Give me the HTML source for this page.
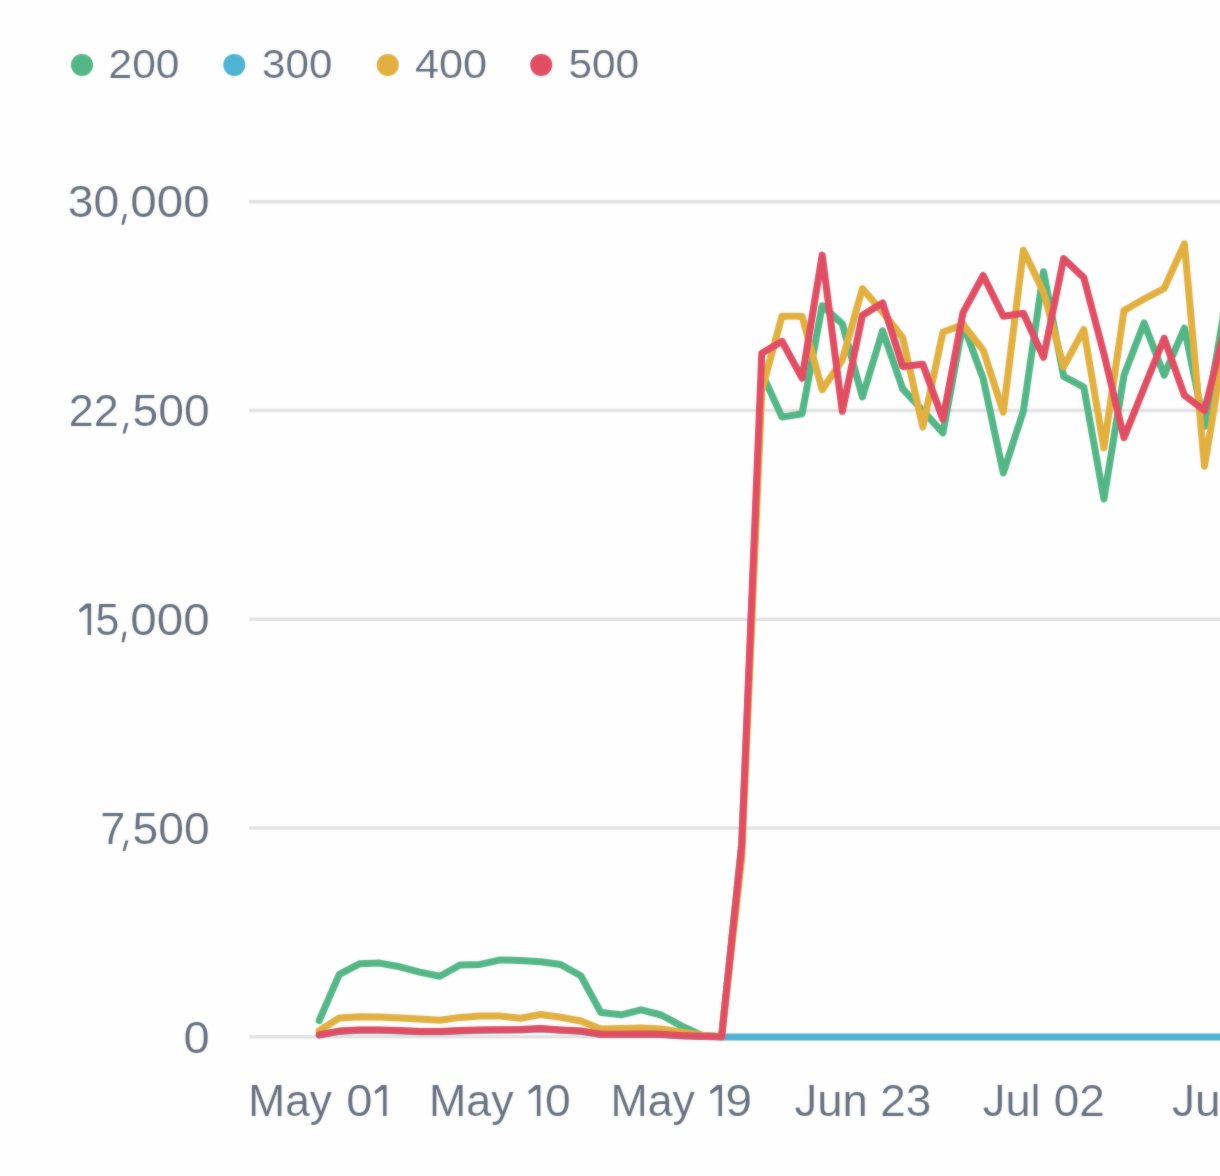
<!DOCTYPE html>
<html><head><meta charset="utf-8"><title>chart</title>
<style>
html,body{margin:0;padding:0;background:#fefefe;}
body{width:1220px;height:1176px;overflow:hidden;font-family:"Liberation Sans",sans-serif;}
svg{display:block;}
text{font-family:"Liberation Sans",sans-serif;fill:#68707e;stroke:#fefefe;stroke-width:0.15px;paint-order:fill stroke;}
.g1{fill:#68707e;}
.lg{font-size:40.5px;}
.ax{font-size:45.0px;}
.ay{font-size:45.0px;}
</style></head><body>
<svg width="1220" height="1176" viewBox="0 0 1220 1176">
<defs><filter id="soft" color-interpolation-filters="sRGB" x="-20" y="-20" width="1260" height="1216" filterUnits="userSpaceOnUse"><feGaussianBlur stdDeviation="0.8" result="b"/><feComposite in="SourceGraphic" in2="b" operator="arithmetic" k1="0" k2="0.6" k3="0.4" k4="0"/></filter></defs>
<rect width="1220" height="1176" fill="#fefefe"/>
<g filter="url(#soft)">
<circle cx="82" cy="64.9" r="11" fill="#54b686"/>
<text class="lg" x="108.58" y="78.0" textLength="70.86" lengthAdjust="spacingAndGlyphs">200</text>
<circle cx="234.3" cy="64.9" r="11" fill="#4fb3d3"/>
<text class="lg" x="262.02" y="78.0" textLength="70.3" lengthAdjust="spacingAndGlyphs">300</text>
<circle cx="387.8" cy="64.9" r="11" fill="#e1b040"/>
<text class="lg" x="415.03" y="78.0" textLength="72.14" lengthAdjust="spacingAndGlyphs">400</text>
<circle cx="541.2" cy="64.9" r="11" fill="#e04e63"/>
<text class="lg" x="568.4" y="78.0" textLength="70.73" lengthAdjust="spacingAndGlyphs">500</text>
<rect x="249" y="199.95" width="980" height="3.5" fill="#e2e2e3"/>
<rect x="249" y="408.75" width="980" height="3.5" fill="#e2e2e3"/>
<rect x="249" y="617.50" width="980" height="3.5" fill="#e2e2e3"/>
<rect x="249" y="826.25" width="980" height="3.5" fill="#e2e2e3"/>
<rect x="249" y="1035.05" width="980" height="3.5" fill="#e2e2e3"/>
<text class="ay" x="67.76" y="217.4" textLength="51.48" lengthAdjust="spacingAndGlyphs">30</text>
<path class="g1" d="M123.90,214.10 L126.90,214.10 L124.00,224.80 L121.30,224.80 Z"/>
<text class="ay" x="130.3" y="217.4" textLength="79.33" lengthAdjust="spacingAndGlyphs">000</text>
<text class="ay" x="68.86" y="426.2" textLength="49.89" lengthAdjust="spacingAndGlyphs">22</text>
<path class="g1" d="M125.40,422.90 L128.40,422.90 L125.20,433.60 L122.50,433.60 Z"/>
<text class="ay" x="132.55" y="426.2" textLength="77.02" lengthAdjust="spacingAndGlyphs">500</text>
<path class="g1" d="M91.10,603.55 L91.10,634.95 L87.60,634.95 L87.60,607.85 L80.10,612.85 L78.90,609.75 L86.30,603.55 Z"/>
<text class="ay" x="95.59" y="634.95" textLength="23.77" lengthAdjust="spacingAndGlyphs">5</text>
<path class="g1" d="M123.40,631.65 L126.40,631.65 L124.20,642.35 L121.50,642.35 Z"/>
<text class="ay" x="130.3" y="634.95" textLength="79.33" lengthAdjust="spacingAndGlyphs">000</text>
<text class="ay" x="100.25" y="843.7" textLength="25.06" lengthAdjust="spacingAndGlyphs">7</text>
<path class="g1" d="M125.40,840.40 L128.40,840.40 L125.20,851.10 L122.50,851.10 Z"/>
<text class="ay" x="132.55" y="843.7" textLength="77.02" lengthAdjust="spacingAndGlyphs">500</text>
<text class="ay" x="183.42" y="1052.5" textLength="26.21" lengthAdjust="spacingAndGlyphs">0</text>
<text class="ax" x="248.35" y="1116.0" textLength="83.63" lengthAdjust="spacingAndGlyphs">May</text>
<text class="ax" x="346.22" y="1116.0" textLength="26.21" lengthAdjust="spacingAndGlyphs">0</text>
<path class="g1" d="M386.60,1085.00 L386.60,1116.00 L383.10,1116.00 L383.10,1089.30 L375.60,1094.30 L374.40,1091.20 L381.80,1085.00 Z"/>
<text class="ax" x="428.9" y="1116.0" textLength="84.67" lengthAdjust="spacingAndGlyphs">May</text>
<path class="g1" d="M540.40,1085.00 L540.40,1116.00 L536.90,1116.00 L536.90,1089.30 L529.40,1094.30 L528.20,1091.20 L535.60,1085.00 Z"/>
<text class="ax" x="544.95" y="1116.0" textLength="25.74" lengthAdjust="spacingAndGlyphs">0</text>
<text class="ax" x="610.41" y="1116.0" textLength="84.46" lengthAdjust="spacingAndGlyphs">May</text>
<path class="g1" d="M722.00,1085.00 L722.00,1116.00 L718.50,1116.00 L718.50,1089.30 L711.00,1094.30 L709.80,1091.20 L717.20,1085.00 Z"/>
<text class="ax" x="725.53" y="1116.0" textLength="26.58" lengthAdjust="spacingAndGlyphs">9</text>
<text class="ax" x="794.42" y="1116.0" textLength="73.33" lengthAdjust="spacingAndGlyphs">Jun</text>
<rect x="802.83" y="1083.54" width="6.58" height="5.78" fill="#fefefe"/>
<text class="ax" x="880.3" y="1116.0" textLength="51.16" lengthAdjust="spacingAndGlyphs">23</text>
<text class="ax" x="982.82" y="1116.0" textLength="57.77" lengthAdjust="spacingAndGlyphs">Jul</text>
<rect x="991.18" y="1083.54" width="6.54" height="5.78" fill="#fefefe"/>
<text class="ax" x="1053.86" y="1116.0" textLength="51.04" lengthAdjust="spacingAndGlyphs">02</text>
<text class="ax" x="1172.11" y="1116.0" textLength="48.53" lengthAdjust="spacingAndGlyphs">Ju</text>
<rect x="1180.61" y="1083.54" width="6.65" height="5.78" fill="#fefefe"/>
<path d="M319.2,1020.5 L339.3,974.3 L359.4,963.8 L379.6,963.1 L399.7,966.8 L419.8,972.1 L439.9,976.2 L460.0,965.0 L480.2,964.4 L500.3,959.9 L520.4,960.6 L540.5,961.7 L560.6,964.5 L580.8,975.8 L600.9,1012.6 L621.0,1014.8 L641.1,1009.8 L661.2,1015.0 L681.4,1025.8 L701.5,1035.2 L721.6,1036.5 L741.7,843.0 L761.8,373.0 L782.0,417.1 L802.1,413.7 L822.2,305.7 L842.3,323.8 L862.4,396.9 L882.6,330.8 L902.7,388.8 L922.8,410.7 L942.9,432.9 L963.0,323.8 L983.2,378.8 L1003.3,472.9 L1023.4,411.0 L1043.5,271.7 L1063.6,376.4 L1083.8,387.1 L1103.9,499.0 L1124.0,375.2 L1144.1,322.9 L1164.2,375.2 L1184.4,328.1 L1204.5,426.5 L1224.6,309.0" fill="none" stroke="#54b686" stroke-width="7.0" stroke-linejoin="round" stroke-linecap="round"/>
<path d="M319.2,1035.0 L339.3,1031.4 L359.4,1030.3 L379.6,1030.3 L399.7,1030.9 L419.8,1031.8 L439.9,1031.8 L460.0,1030.9 L480.2,1030.3 L500.3,1030.0 L520.4,1029.9 L540.5,1028.9 L560.6,1030.2 L580.8,1031.2 L600.9,1034.6 L621.0,1034.6 L641.1,1034.2 L661.2,1034.6 L681.4,1035.9 L701.5,1036.5 L721.6,1037.0 L741.7,1037.0 L761.8,1037.0 L782.0,1037.0 L802.1,1037.0 L822.2,1037.0 L842.3,1037.0 L862.4,1037.0 L882.6,1037.0 L902.7,1037.0 L922.8,1037.0 L942.9,1037.0 L963.0,1037.0 L983.2,1037.0 L1003.3,1037.0 L1023.4,1037.0 L1043.5,1037.0 L1063.6,1037.0 L1083.8,1037.0 L1103.9,1037.0 L1124.0,1037.0 L1144.1,1037.0 L1164.2,1037.0 L1184.4,1037.0 L1204.5,1037.0 L1224.6,1037.0" fill="none" stroke="#4fb3d3" stroke-width="7.0" stroke-linejoin="round" stroke-linecap="round"/>
<path d="M319.2,1030.6 L339.3,1018.0 L359.4,1016.7 L379.6,1017.0 L399.7,1018.0 L419.8,1018.9 L439.9,1020.3 L460.0,1017.4 L480.2,1016.1 L500.3,1016.1 L520.4,1018.2 L540.5,1014.5 L560.6,1017.3 L580.8,1021.0 L600.9,1029.0 L621.0,1028.6 L641.1,1028.0 L661.2,1029.0 L681.4,1032.0 L701.5,1035.2 L721.6,1037.0 L741.7,858.0 L761.8,390.0 L782.0,316.3 L802.1,316.3 L822.2,389.8 L842.3,360.0 L862.4,288.6 L882.6,312.0 L902.7,337.6 L922.8,427.1 L942.9,332.3 L963.0,324.5 L983.2,350.2 L1003.3,412.1 L1023.4,250.2 L1043.5,291.9 L1063.6,366.9 L1083.8,329.5 L1103.9,447.8 L1124.0,310.5 L1144.1,299.0 L1164.2,288.3 L1184.4,243.8 L1204.5,466.2 L1224.6,345.0" fill="none" stroke="#e1b040" stroke-width="7.0" stroke-linejoin="round" stroke-linecap="round"/>
<path d="M319.2,1034.7 L339.3,1031.1 L359.4,1030.0 L379.6,1030.0 L399.7,1030.6 L419.8,1031.5 L439.9,1031.5 L460.0,1030.6 L480.2,1030.0 L500.3,1029.7 L520.4,1029.6 L540.5,1028.6 L560.6,1029.9 L580.8,1030.9 L600.9,1034.3 L621.0,1034.3 L641.1,1033.9 L661.2,1034.3 L681.4,1035.6 L701.5,1036.2 L721.6,1036.8 L741.7,846.7 L761.8,353.2 L782.0,341.3 L802.1,378.1 L822.2,255.1 L842.3,411.2 L862.4,315.3 L882.6,302.9 L902.7,366.4 L922.8,364.3 L942.9,419.3 L963.0,312.7 L983.2,275.5 L1003.3,316.2 L1023.4,313.3 L1043.5,357.4 L1063.6,258.6 L1083.8,277.6 L1103.9,353.8 L1124.0,437.7 L1144.1,387.8 L1164.2,338.3 L1184.4,395.3 L1204.5,410.5 L1224.6,330.0" fill="none" stroke="#e04e63" stroke-width="7.0" stroke-linejoin="round" stroke-linecap="round"/>
</g>
</svg></body></html>
